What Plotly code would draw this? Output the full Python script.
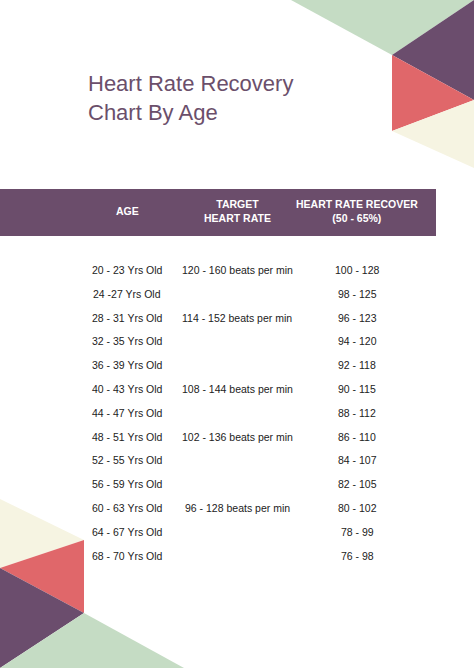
import plotly.graph_objects as go

ages = ["20 - 23 Yrs Old","24 -27 Yrs Old","28 - 31 Yrs Old","32 - 35 Yrs Old","36 - 39 Yrs Old",
        "40 - 43 Yrs Old","44 - 47 Yrs Old","48 - 51 Yrs Old","52 - 55 Yrs Old","56 - 59 Yrs Old",
        "60 - 63 Yrs Old","64 - 67 Yrs Old","68 - 70 Yrs Old"]
target = ["120 - 160 beats per min","","114 - 152 beats per min","","","108 - 144 beats per min","",
          "102 - 136 beats per min","","","96 - 128 beats per min","",""]
recover = ["100 - 128","98 - 125","96 - 123","94 - 120","92 - 118","90 - 115","88 - 112",
           "86 - 110","84 - 107","82 - 105","80 - 102","78 - 99","76 - 98"]
headers = ["AGE","TARGET<br>HEART RATE","HEART RATE RECOVER<br>(50 - 65%)"]

W, H = 474, 668
fig = go.Figure()
shapes = [
    ("M291,0 L474,0 L392,55 Z", "#c5dcc4"),
    ("M392,55 L474,0 L474,100 Z", "#6b4d6d"),
    ("M392,55 L474,100 L392,131 Z", "#e0676a"),
    ("M392,131 L474,100 L474,168 Z", "#f6f4e2"),
    ("M0,499 L84,540 L0,568 Z", "#f6f4e2"),
    ("M0,568 L84,540 L84,613 Z", "#e0676a"),
    ("M0,568 L84,613 L0,668 Z", "#6b4d6d"),
    ("M0,668 L84,613 L184,668 Z", "#c5dcc4"),
]
for p, c in shapes:
    fig.add_shape(type="path", path=p, fillcolor=c, line_width=0, layer="below")
fig.add_shape(type="rect", x0=0, x1=436, y0=189, y1=236, fillcolor="#6b4d6b", line_width=0, layer="below")

colx = [127, 237, 357]
font = dict(family="Liberation Sans, Arial", size=10.5, color="#222")
for i in range(len(ages)):
    y = 270 + i * 23.8
    for x, t in zip(colx, [ages[i], target[i], recover[i]]):
        if t:
            fig.add_annotation(x=x, y=y, text=t, showarrow=False, font=font, xanchor="center", yanchor="middle")
for x, t in zip(colx, headers):
    fig.add_annotation(x=x, y=211, text="<b>" + t + "</b>", showarrow=False,
                       font=dict(family="Liberation Sans, Arial", size=10.5, color="white"),
                       xanchor="center", yanchor="middle")
fig.add_annotation(x=86, y=98, text="Heart Rate Recovery<br>Chart By Age", showarrow=False, align="left",
                   xanchor="left", yanchor="middle",
                   font=dict(family="Liberation Sans, Arial", size=22, color="#6b4f6b"))

fig.update_xaxes(range=[0, W], visible=False, fixedrange=True)
fig.update_yaxes(range=[H, 0], visible=False, fixedrange=True)
fig.update_layout(width=W, height=H, margin=dict(l=0, r=0, t=0, b=0),
                  plot_bgcolor="white", paper_bgcolor="white", showlegend=False)
fig.write_html("out.html", config={"displayModeBar": False},
               post_script="document.body.style.margin='0';document.body.style.overflow='hidden';")
